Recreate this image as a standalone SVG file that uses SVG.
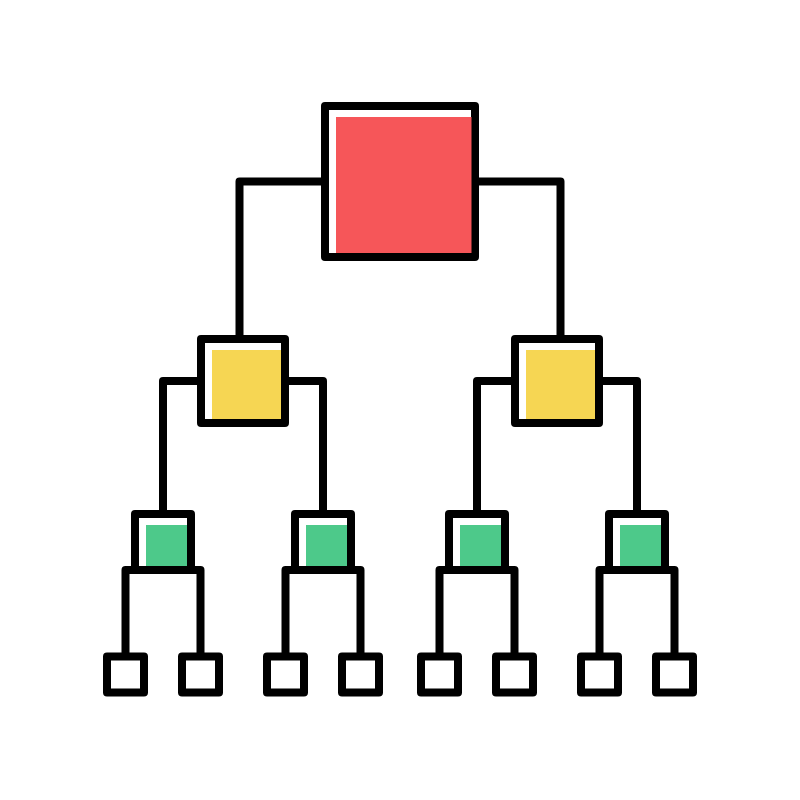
<svg xmlns="http://www.w3.org/2000/svg" width="800" height="800" viewBox="0 0 800 800">
<style>
.s{fill:none;stroke:#000;stroke-width:8;stroke-linejoin:round;stroke-linecap:square}
.b{fill:#fff;stroke:#000;stroke-width:8;stroke-linejoin:round}
.red{fill:#F65659}
.yel{fill:#F6D653}
.grn{fill:#4DC98A}
</style>
<rect width="800" height="800" fill="#fff"/>
<g id="connectors" class="s">
<path d="M325 181.5H239.5V339"/>
<path d="M475 181.5H560.5V339"/>
<path d="M201 381H163V514"/>
<path d="M285 381H323V514"/>
<path d="M515 381H477V514"/>
<path d="M599 381H637V514"/>
<path d="M125.5 656.5V570H200.5V656.5"/>
<path d="M285.5 656.5V570H360.5V656.5"/>
<path d="M439.5 656.5V570H514.5V656.5"/>
<path d="M599.5 656.5V570H674.5V656.5"/>
</g>
<g id="root"><rect class="b" x="325" y="106" width="150" height="151"/><rect class="red" x="336" y="117" width="135.5" height="136"/></g>
<g id="mid-left"><rect class="b" x="201" y="339" width="84" height="84"/><rect class="yel" x="212" y="350" width="69" height="69"/></g>
<g id="mid-right"><rect class="b" x="515" y="339" width="84" height="84"/><rect class="yel" x="526" y="350" width="69" height="69"/></g>
<g id="g1"><rect class="b" x="135" y="514" width="56" height="56"/><rect class="grn" x="146" y="525" width="41" height="41"/></g>
<g id="g2"><rect class="b" x="295" y="514" width="56" height="56"/><rect class="grn" x="306" y="525" width="41" height="41"/></g>
<g id="g3"><rect class="b" x="449" y="514" width="56" height="56"/><rect class="grn" x="460" y="525" width="41" height="41"/></g>
<g id="g4"><rect class="b" x="609" y="514" width="56" height="56"/><rect class="grn" x="620" y="525" width="41" height="41"/></g>
<g id="leaf1"><rect class="b" x="107" y="656.5" width="37" height="36"/></g>
<g id="leaf2"><rect class="b" x="182" y="656.5" width="37" height="36"/></g>
<g id="leaf3"><rect class="b" x="267" y="656.5" width="37" height="36"/></g>
<g id="leaf4"><rect class="b" x="342" y="656.5" width="37" height="36"/></g>
<g id="leaf5"><rect class="b" x="421" y="656.5" width="37" height="36"/></g>
<g id="leaf6"><rect class="b" x="496" y="656.5" width="37" height="36"/></g>
<g id="leaf7"><rect class="b" x="581" y="656.5" width="37" height="36"/></g>
<g id="leaf8"><rect class="b" x="656" y="656.5" width="37" height="36"/></g>
</svg>
